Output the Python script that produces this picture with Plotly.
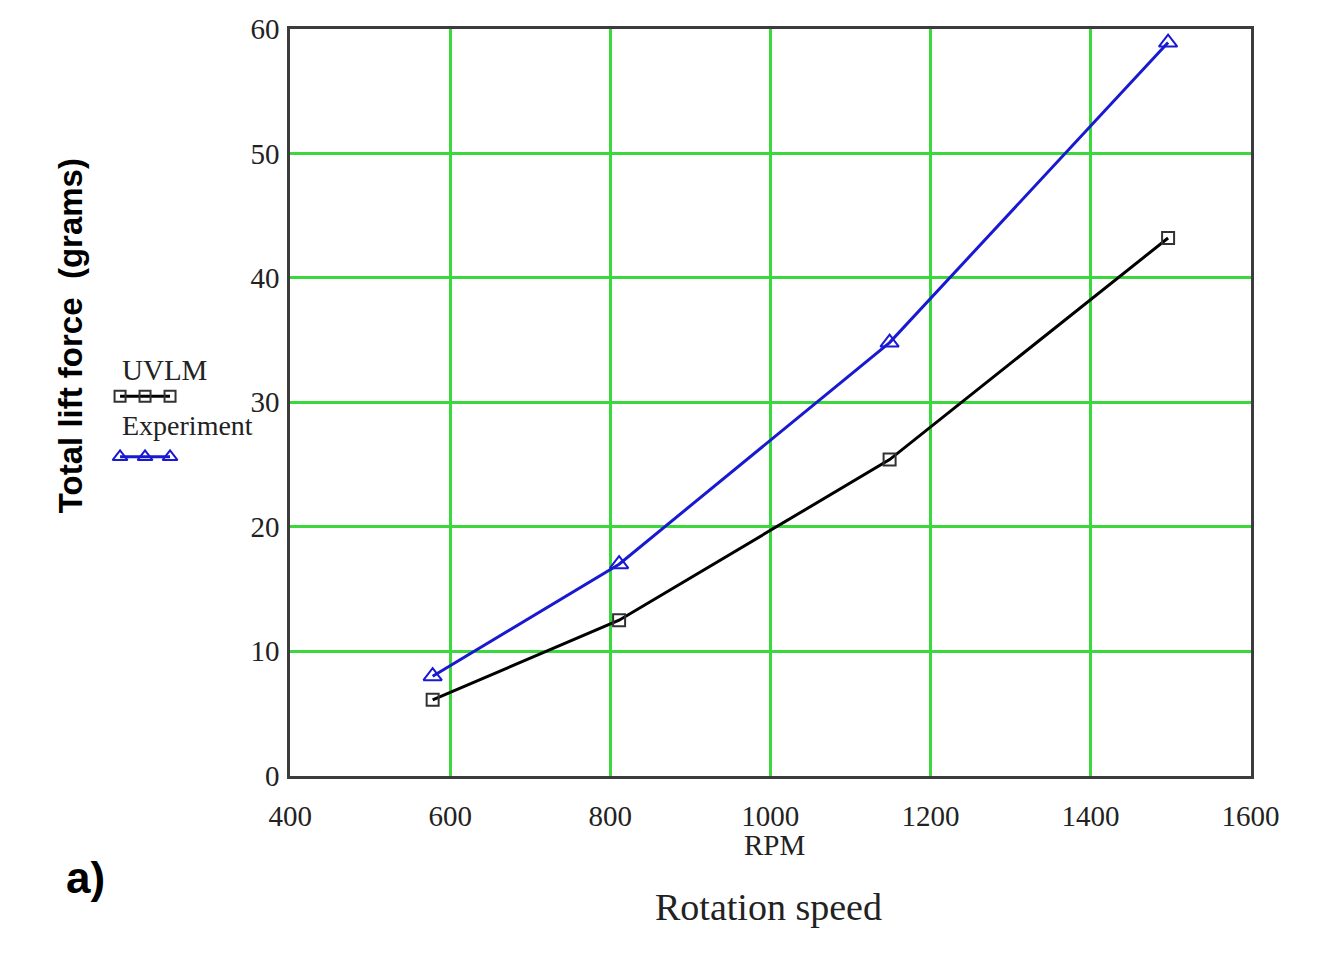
import plotly.graph_objects as go

# Data
rpm = [578, 811, 1149, 1497]
uvlm = [6.1, 12.5, 25.4, 43.2]
experiment = [8.0, 17.0, 34.8, 58.9]

x_ticks = [400, 600, 800, 1000, 1200, 1400, 1600]
y_ticks = [0, 10, 20, 30, 40, 50, 60]

W, H = 1317, 971
SERIF = "Liberation Serif, Times New Roman, serif"
SANS = "Liberation Sans, Arial, sans-serif"
GRID = "rgb(60,215,60)"
FRAME = "rgb(60,60,60)"
BLUE = "rgb(25,25,210)"

fig = go.Figure()

fig.add_trace(go.Scatter(
    x=rpm, y=uvlm, mode="lines+markers", name="UVLM",
    line=dict(color="black", width=3),
    marker=dict(symbol="square-open", size=12, color="rgb(50,50,50)", line=dict(width=2)),
    showlegend=False,
))
fig.add_trace(go.Scatter(
    x=rpm, y=experiment, mode="lines+markers", name="Experiment",
    line=dict(color=BLUE, width=3),
    marker=dict(symbol="triangle-up-open", size=16, color=BLUE, line=dict(width=2)),
    showlegend=False,
))

# legend samples drawn on a small auxiliary axis
leg_x = [0.15, 0.475, 0.8]
fig.add_trace(go.Scatter(
    x=leg_x, y=[0.79] * 3, xaxis="x2", yaxis="y2", mode="lines+markers",
    line=dict(color="black", width=3),
    marker=dict(symbol="square-open", size=11, color="rgb(50,50,50)", line=dict(width=2)),
    showlegend=False, hoverinfo="skip",
))
fig.add_trace(go.Scatter(
    x=leg_x, y=[0.22] * 3, xaxis="x2", yaxis="y2", mode="lines+markers",
    line=dict(color=BLUE, width=3),
    marker=dict(symbol="triangle-up-open", size=13, color=BLUE, line=dict(width=2)),
    showlegend=False, hoverinfo="skip",
))

x0, x1 = 279 / W, 1278 / W
y0, y1 = 1 - 785.7 / H, 1 - 13.3 / H


def ann(text, px, py, font, **kw):
    return dict(text=text, x=px / W, y=1 - py / H, xref="paper", yref="paper",
                showarrow=False, font=font, yanchor="middle", **kw)


fig.update_layout(
    width=W, height=H,
    margin=dict(l=0, r=0, t=0, b=0),
    paper_bgcolor="white", plot_bgcolor="white",
    xaxis=dict(
        domain=[x0, x1], range=[400, 1600], tickvals=x_ticks,
        showgrid=True, gridcolor=GRID, gridwidth=2.5,
        showline=True, linecolor=FRAME, linewidth=3, mirror=True,
        zeroline=False, ticks="", ticklabelstandoff=12, ticklabeloverflow="allow",
        tickfont=dict(family=SERIF, size=29, color="#222"),
    ),
    yaxis=dict(
        domain=[y0, y1], range=[0, 60], tickvals=y_ticks,
        showgrid=True, gridcolor=GRID, gridwidth=2.5,
        showline=True, linecolor=FRAME, linewidth=3, mirror=True,
        zeroline=False, ticks="", ticklabelstandoff=2, ticklabeloverflow="allow",
        tickfont=dict(family=SERIF, size=29, color="#222"),
    ),
    xaxis2=dict(domain=[90 / W, 170 / W], range=[0, 1], visible=False, anchor="y2"),
    yaxis2=dict(domain=[1 - 480 / H, 1 - 370 / H], range=[0, 1], visible=False, anchor="x2"),
    annotations=[
        ann("RPM", 783, 857, dict(family=SERIF, size=29, color="#222"), xanchor="center"),
        ann("Rotation speed", 777, 921, dict(family=SERIF, size=38, color="#222"), xanchor="center"),
        ann("<b>a)</b>", 66, 891, dict(family=SANS, size=44, color="black"), xanchor="center"),
        ann("<b>Total lift force  (grams)</b>", 50, 331, dict(family=SANS, size=33, color="black"),
            xanchor="center", textangle=-90),
        ann("UVLM", 102, 366, dict(family=SERIF, size=29, color="#222"), xanchor="left"),
        ann("Experiment", 102, 423, dict(family=SERIF, size=28, color="#222"), xanchor="left"),
    ],
)

fig.write_html("out.html")
